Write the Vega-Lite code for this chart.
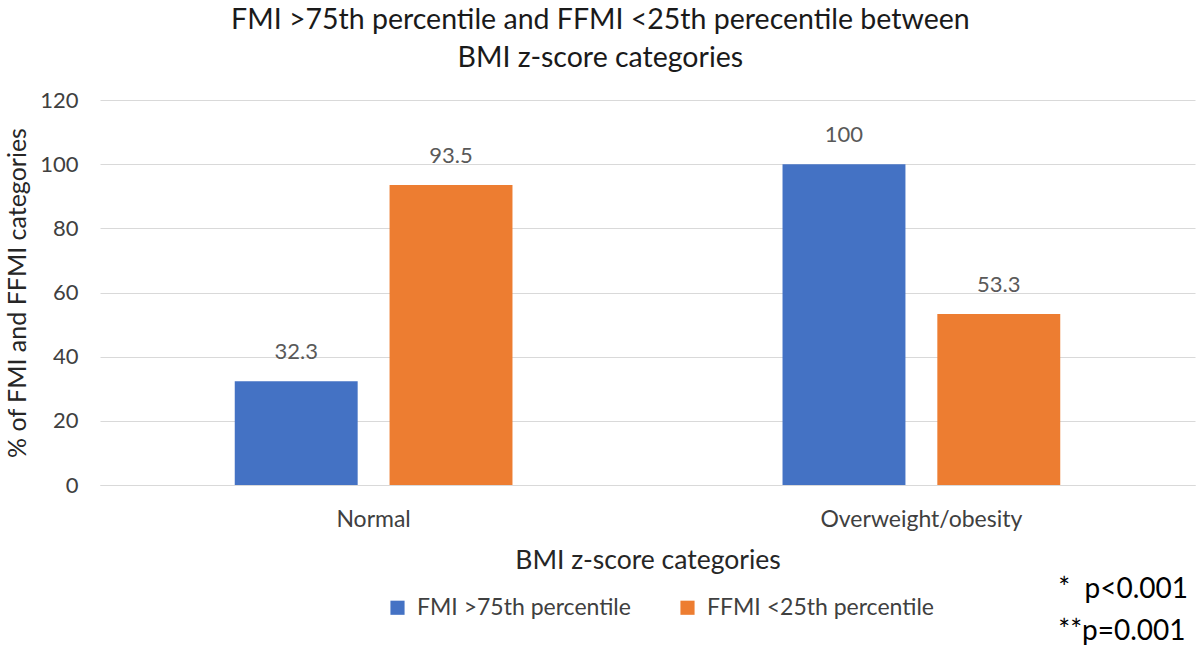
{
  "$schema": "https://vega.github.io/schema/vega-lite/v6.json",
  "width": 1095,
  "height": 385,
  "autosize": {"type": "none"},
  "padding": {"left": 100, "top": 100, "right": 5, "bottom": 165},
  "background": "white",
  "config": {"font": "Lato", "view": {"stroke": null}},
  "title": {
    "text": ["FMI >75th percentile and FFMI <25th perecentile between", "BMI z-score categories"],
    "fontSize": 28.5,
    "fontWeight": "normal",
    "color": "#1a1a1a",
    "anchor": "middle",
    "frame": "bounds",
    "lineHeight": 38,
    "offset": 17
  },
  "data": {
    "values": [
      {"category": "Normal", "series": "FMI >75th percentile", "value": 32.3},
      {"category": "Normal", "series": "FFMI <25th percentile", "value": 93.5},
      {"category": "Overweight/obesity", "series": "FMI >75th percentile", "value": 100},
      {"category": "Overweight/obesity", "series": "FFMI <25th percentile", "value": 53.3}
    ]
  },
  "layer": [
    {
      "mark": {"type": "bar"},
      "encoding": {
        "x": {
          "field": "category", "type": "nominal", "sort": null,
          "scale": {"paddingInner": 0.493, "paddingOuter": 0.246},
          "title": "BMI z-score categories",
          "axis": {
            "labelAngle": 0, "domainColor": "#D9D9D9", "ticks": false, "labelLimit": 400,
            "labelFontSize": 23, "labelPadding": 23, "labelColor": "#404040",
            "titleFontSize": 26.5, "titleFontWeight": "normal", "titleColor": "#262626", "titlePadding": 16
          }
        },
        "xOffset": {"field": "series", "sort": ["FMI >75th percentile", "FFMI <25th percentile"], "scale": {"paddingInner": 0.206}},
        "y": {
          "field": "value", "type": "quantitative",
          "scale": {"domain": [0, 120]},
          "title": "% of FMI and FFMI categories",
          "axis": {
            "values": [0, 20, 40, 60, 80, 100, 120], "grid": true, "gridColor": "#D9D9D9",
            "domain": false, "ticks": false, "labelFontSize": 22, "labelPadding": 22, "labelColor": "#404040",
            "titleFontSize": 25, "titleFontWeight": "normal", "titleColor": "#262626", "titlePadding": 9
          }
        },
        "color": {
          "field": "series", "type": "nominal",
          "sort": ["FMI >75th percentile", "FFMI <25th percentile"],
          "scale": {"domain": ["FMI >75th percentile", "FFMI <25th percentile"], "range": ["#4472C4", "#ED7D31"]},
          "legend": {
            "title": null, "orient": "none", "legendX": 286, "legendY": 496, "direction": "horizontal",
            "symbolType": "square", "symbolSize": 200, "symbolStrokeWidth": 0, "symbolOffset": 0,
            "labelFontSize": 23, "labelLimit": 400, "labelOffset": 8, "labelColor": "#404040", "columnPadding": 45
          }
        }
      }
    },
    {
      "mark": {"type": "text", "baseline": "bottom", "dy": -17, "fontSize": 22, "color": "#595959"},
      "encoding": {
        "x": {"field": "category", "type": "nominal", "sort": null},
        "xOffset": {"field": "series", "sort": ["FMI >75th percentile", "FFMI <25th percentile"]},
        "y": {"field": "value", "type": "quantitative"},
        "text": {"field": "value", "type": "quantitative"}
      }
    },
    {
      "data": {"values": [{"note": "*\u00a0\u00a0p<0.001", "pos": -32.7}, {"note": "**p=0.001", "pos": -45.8}]},
      "mark": {"type": "text", "align": "left", "baseline": "middle", "fontSize": 28, "color": "#000000", "dx": -2},
      "encoding": {
        "x": {"datum": "Overweight/obesity", "bandPosition": 1},
        "y": {"field": "pos", "type": "quantitative"},
        "text": {"field": "note"}
      }
    }
  ]
}
